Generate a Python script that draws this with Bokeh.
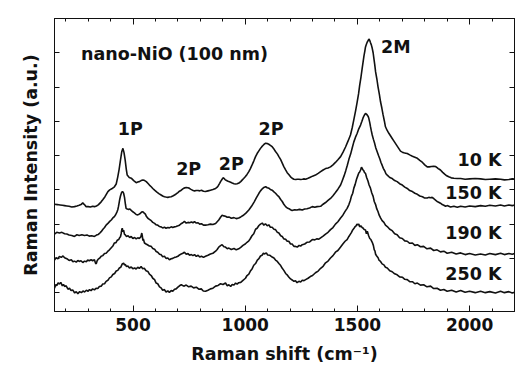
from bokeh.plotting import figure
from bokeh.models import Range1d, LinearAxis, SingleIntervalTicker, FixedTicker, Label
from bokeh.embed import file_html
from bokeh.resources import INLINE

# ---- data: (Raman shift in cm^-1, offset intensity in arbitrary units) ----
spec_10K = [(150, 2.58), (163, 2.57), (175, 2.56), (185, 2.55), (195, 2.54), (205, 2.53), (215, 2.52), (227, 2.50), (239, 2.51),
            (250, 2.53), (260, 2.55), (268, 2.57), (276, 2.62), (281, 2.58), (285, 2.56), (291, 2.51), (300, 2.51), (310, 2.50),
            (320, 2.52), (328, 2.51), (337, 2.53), (345, 2.56), (358, 2.65), (366, 2.72), (375, 2.80), (388, 2.95), (396, 3.00),
            (405, 3.03), (417, 3.09), (425, 3.17), (432, 3.38), (438, 3.60), (444, 3.87), (450, 4.12), (455, 4.21), (460, 4.08),
            (465, 3.87), (470, 3.60), (474, 3.43), (483, 3.36), (492, 3.34), (503, 3.27), (514, 3.21), (521, 3.23), (528, 3.24),
            (536, 3.27), (544, 3.29), (552, 3.27), (559, 3.24), (566, 3.19), (573, 3.14), (581, 3.09), (588, 3.04), (596, 2.99),
            (605, 2.94), (615, 2.89), (625, 2.85), (632, 2.82), (640, 2.80), (647, 2.79), (655, 2.78), (662, 2.79), (670, 2.80),
            (677, 2.82), (685, 2.85), (692, 2.88), (700, 2.92), (707, 2.96), (715, 2.99), (722, 3.03), (727, 3.05), (737, 3.07),
            (744, 3.06), (750, 3.05), (756, 3.02), (762, 3.00), (768, 2.98), (774, 2.97), (782, 2.98), (790, 2.98), (797, 2.97),
            (805, 2.99), (814, 2.96), (823, 2.95), (834, 2.97), (845, 2.99), (856, 3.01), (868, 3.04), (874, 3.07), (880, 3.12),
            (886, 3.19), (890, 3.24), (897, 3.31), (901, 3.35), (905, 3.34), (910, 3.30), (915, 3.28), (921, 3.26), (927, 3.24),
            (935, 3.22), (942, 3.20), (950, 3.18), (957, 3.17), (964, 3.18), (972, 3.20), (980, 3.24), (987, 3.29), (993, 3.33),
            (1000, 3.38), (1008, 3.45), (1016, 3.53), (1023, 3.62), (1030, 3.72), (1038, 3.84), (1046, 3.97), (1053, 4.06),
            (1060, 4.13), (1068, 4.21), (1074, 4.26), (1080, 4.30), (1086, 4.34), (1091, 4.36), (1098, 4.35), (1105, 4.33),
            (1112, 4.30), (1120, 4.26), (1128, 4.19), (1135, 4.12), (1143, 4.05), (1150, 3.97), (1158, 3.88), (1165, 3.78),
            (1172, 3.68), (1180, 3.58), (1187, 3.50), (1195, 3.44), (1202, 3.38), (1209, 3.34), (1217, 3.31), (1225, 3.30),
            (1232, 3.31), (1239, 3.31), (1247, 3.30), (1255, 3.31), (1262, 3.32), (1269, 3.31), (1280, 3.34), (1290, 3.37),
            (1300, 3.40), (1313, 3.43), (1325, 3.48), (1336, 3.53), (1347, 3.58), (1358, 3.62), (1369, 3.64), (1380, 3.67),
            (1391, 3.73), (1402, 3.80), (1413, 3.88), (1425, 3.97), (1436, 4.10), (1447, 4.25), (1458, 4.42), (1469, 4.60),
            (1477, 4.82), (1484, 5.05), (1492, 5.31), (1499, 5.57), (1505, 5.80), (1510, 6.05), (1516, 6.30), (1521, 6.54),
            (1525, 6.72), (1529, 6.90), (1533, 7.05), (1536, 7.17), (1540, 7.25), (1543, 7.30), (1547, 7.35), (1551, 7.40),
            (1555, 7.36), (1558, 7.30), (1562, 7.23), (1566, 7.13), (1570, 7.00), (1573, 6.85), (1577, 6.66), (1581, 6.44),
            (1587, 6.22), (1592, 6.00), (1598, 5.78), (1603, 5.57), (1609, 5.38), (1614, 5.20), (1620, 5.01), (1625, 4.84),
            (1632, 4.74), (1640, 4.65), (1648, 4.57), (1655, 4.50), (1662, 4.43), (1670, 4.35), (1681, 4.24), (1692, 4.13),
            (1700, 4.10), (1707, 4.08), (1715, 4.07), (1722, 4.06), (1733, 4.02), (1745, 3.98), (1756, 3.95), (1767, 3.92),
            (1778, 3.86), (1790, 3.80), (1800, 3.73), (1811, 3.67), (1820, 3.67), (1830, 3.68), (1840, 3.69), (1848, 3.68),
            (1855, 3.65), (1860, 3.62), (1865, 3.60), (1870, 3.58), (1880, 3.51), (1890, 3.45), (1898, 3.41), (1907, 3.38),
            (1918, 3.35), (1930, 3.34), (1945, 3.33), (1960, 3.33), (1980, 3.31), (2000, 3.32), (2025, 3.33), (2049, 3.32),
            (2070, 3.30), (2090, 3.31), (2115, 3.32), (2138, 3.31), (2155, 3.29), (2175, 3.30), (2190, 3.32), (2205, 3.31)]

spec_150K = [(150, 1.71), (160, 1.76), (172, 1.74), (183, 1.76), (195, 1.72), (205, 1.71), (215, 1.68), (227, 1.67), (239, 1.64),
             (250, 1.69), (260, 1.67), (272, 1.69), (284, 1.67), (295, 1.68), (305, 1.65), (316, 1.66), (328, 1.64), (337, 1.68),
             (345, 1.70), (352, 1.74), (358, 1.78), (366, 1.85), (373, 1.90), (380, 1.97), (388, 2.02), (396, 2.08), (403, 2.12),
             (410, 2.18), (417, 2.22), (423, 2.28), (428, 2.35), (432, 2.42), (435, 2.51), (438, 2.62), (440, 2.70), (444, 2.82),
             (449, 2.92), (453, 2.95), (456, 2.93), (458, 2.90), (462, 2.78), (466, 2.58), (469, 2.46), (474, 2.44), (480, 2.43),
             (486, 2.44), (492, 2.40), (499, 2.36), (506, 2.33), (514, 2.28), (521, 2.27), (527, 2.29), (532, 2.31), (538, 2.35),
             (544, 2.36), (550, 2.32), (555, 2.29), (560, 2.22), (566, 2.17), (573, 2.14), (581, 2.10), (588, 2.05), (596, 2.02),
             (603, 1.98), (610, 1.97), (618, 1.93), (625, 1.92), (632, 1.89), (640, 1.91), (647, 1.88), (655, 1.90), (662, 1.89),
             (670, 1.92), (677, 1.90), (685, 1.92), (692, 1.93), (700, 1.95), (707, 1.97), (714, 2.01), (722, 2.04), (729, 2.08),
             (737, 2.03), (745, 2.05), (752, 2.04), (760, 2.06), (767, 2.04), (774, 2.07), (782, 2.03), (790, 2.04), (797, 2.00),
             (805, 2.01), (814, 1.97), (823, 1.97), (834, 1.98), (845, 2.00), (856, 1.99), (868, 2.02), (875, 2.07), (882, 2.12),
             (890, 2.20), (897, 2.26), (905, 2.24), (912, 2.23), (920, 2.20), (927, 2.21), (938, 2.17), (950, 2.19), (960, 2.16),
             (971, 2.18), (980, 2.21), (990, 2.25), (1003, 2.32), (1016, 2.41), (1028, 2.52), (1040, 2.65), (1050, 2.77),
             (1061, 2.90), (1068, 2.97), (1076, 3.03), (1083, 3.07), (1091, 3.09), (1098, 3.06), (1105, 3.05), (1112, 3.01),
             (1120, 2.99), (1128, 2.94), (1135, 2.90), (1143, 2.84), (1150, 2.80), (1158, 2.72), (1165, 2.66), (1172, 2.58),
             (1180, 2.51), (1187, 2.47), (1195, 2.45), (1202, 2.42), (1209, 2.40), (1220, 2.42), (1230, 2.41), (1242, 2.43),
             (1254, 2.41), (1265, 2.44), (1275, 2.45), (1287, 2.47), (1299, 2.51), (1310, 2.49), (1320, 2.51), (1336, 2.52),
             (1347, 2.58), (1358, 2.63), (1369, 2.69), (1380, 2.75), (1391, 2.83), (1402, 2.92), (1413, 3.02), (1425, 3.14),
             (1432, 3.26), (1440, 3.40), (1448, 3.56), (1455, 3.72), (1462, 3.89), (1470, 4.05), (1477, 4.23), (1484, 4.40),
             (1491, 4.53), (1499, 4.65), (1506, 4.78), (1514, 4.89), (1520, 5.00), (1525, 5.10), (1530, 5.17), (1536, 5.23),
             (1540, 5.21), (1544, 5.18), (1548, 5.14), (1551, 5.08), (1555, 4.96), (1558, 4.85), (1562, 4.72), (1566, 4.60),
             (1571, 4.48), (1577, 4.35), (1582, 4.22), (1588, 4.11), (1594, 4.00), (1600, 3.90), (1605, 3.80), (1610, 3.72),
             (1616, 3.62), (1622, 3.55), (1627, 3.47), (1633, 3.43), (1644, 3.36), (1655, 3.33), (1666, 3.27), (1677, 3.24),
             (1688, 3.18), (1700, 3.14), (1711, 3.08), (1722, 3.04), (1733, 2.98), (1745, 2.95), (1756, 2.90), (1767, 2.87),
             (1778, 2.82), (1790, 2.80), (1800, 2.76), (1811, 2.76), (1818, 2.78), (1826, 2.77), (1833, 2.78), (1841, 2.74),
             (1848, 2.70), (1855, 2.66), (1862, 2.64), (1870, 2.61), (1878, 2.57), (1885, 2.55), (1893, 2.52), (1900, 2.54),
             (1915, 2.50), (1930, 2.52), (1945, 2.49), (1960, 2.52), (1980, 2.50), (2000, 2.53), (2025, 2.51), (2049, 2.54),
             (2070, 2.52), (2090, 2.55), (2115, 2.53), (2138, 2.56), (2155, 2.53), (2175, 2.56), (2190, 2.54), (2205, 2.56)]

spec_190K = [(150, 0.95), (157, 1.02), (165, 0.99), (172, 1.06), (180, 1.03), (188, 1.07), (195, 1.02), (205, 0.99), (215, 0.94),
             (225, 0.96), (232, 0.90), (239, 0.92), (247, 0.89), (254, 0.94), (260, 0.91), (268, 0.93), (276, 0.88), (284, 0.92),
             (292, 0.90), (298, 0.95), (305, 0.93), (313, 0.96), (320, 0.93), (328, 0.96), (333, 0.86), (336, 0.84), (340, 0.93),
             (345, 0.98), (352, 1.01), (358, 1.06), (365, 1.08), (373, 1.14), (380, 1.15), (388, 1.21), (395, 1.25), (403, 1.31),
             (410, 1.36), (417, 1.45), (424, 1.46), (430, 1.53), (436, 1.55), (440, 1.60), (444, 1.63), (447, 1.72), (450, 1.85),
             (452, 1.88), (455, 1.78), (458, 1.82), (462, 1.70), (465, 1.69), (471, 1.64), (478, 1.66), (485, 1.61), (492, 1.64),
             (499, 1.58), (507, 1.61), (514, 1.57), (521, 1.60), (528, 1.58), (535, 1.63), (539, 1.74), (541, 1.67), (544, 1.52),
             (546, 1.57), (551, 1.45), (558, 1.42), (566, 1.39), (573, 1.36), (581, 1.35), (588, 1.29), (596, 1.27), (603, 1.20),
             (610, 1.18), (618, 1.12), (625, 1.11), (632, 1.05), (640, 1.06), (647, 1.00), (655, 1.01), (662, 0.96), (670, 0.99),
             (677, 1.00), (685, 1.03), (692, 1.04), (700, 1.06), (707, 1.10), (715, 1.13), (722, 1.15), (729, 1.18), (737, 1.12),
             (745, 1.14), (752, 1.09), (760, 1.11), (767, 1.08), (774, 1.11), (782, 1.06), (790, 1.09), (797, 1.04), (805, 1.06),
             (814, 1.03), (823, 1.06), (834, 1.09), (845, 1.13), (856, 1.15), (868, 1.21), (875, 1.26), (882, 1.33), (890, 1.37),
             (897, 1.40), (905, 1.34), (912, 1.33), (920, 1.28), (927, 1.30), (938, 1.26), (950, 1.29), (960, 1.25), (971, 1.28),
             (980, 1.32), (990, 1.38), (1000, 1.42), (1008, 1.47), (1016, 1.51), (1023, 1.58), (1030, 1.66), (1038, 1.72),
             (1046, 1.85), (1053, 1.88), (1061, 1.96), (1068, 2.00), (1076, 2.03), (1083, 1.97), (1090, 2.01), (1098, 1.95),
             (1105, 1.98), (1112, 1.91), (1120, 1.91), (1128, 1.85), (1135, 1.84), (1143, 1.76), (1150, 1.74), (1158, 1.66),
             (1165, 1.64), (1172, 1.57), (1180, 1.56), (1187, 1.50), (1194, 1.50), (1202, 1.42), (1209, 1.42), (1217, 1.35),
             (1224, 1.35), (1232, 1.33), (1240, 1.38), (1247, 1.36), (1254, 1.40), (1265, 1.42), (1275, 1.47), (1287, 1.48),
             (1299, 1.55), (1310, 1.54), (1320, 1.57), (1328, 1.56), (1336, 1.60), (1347, 1.65), (1358, 1.71), (1369, 1.76),
             (1380, 1.84), (1391, 1.90), (1402, 2.00), (1413, 2.07), (1425, 2.18), (1435, 2.26), (1445, 2.37), (1454, 2.46),
             (1462, 2.57), (1468, 2.68), (1473, 2.81), (1479, 2.90), (1484, 3.05), (1490, 3.16), (1496, 3.31), (1501, 3.40),
             (1506, 3.49), (1510, 3.52), (1514, 3.58), (1518, 3.66), (1521, 3.63), (1525, 3.58), (1528, 3.56), (1532, 3.50),
             (1536, 3.48), (1541, 3.36), (1547, 3.26), (1552, 3.14), (1558, 3.05), (1564, 2.91), (1570, 2.81), (1575, 2.66),
             (1581, 2.57), (1586, 2.45), (1592, 2.36), (1597, 2.26), (1603, 2.18), (1610, 2.10), (1618, 2.05), (1625, 1.97),
             (1633, 1.93), (1644, 1.85), (1655, 1.81), (1666, 1.72), (1677, 1.69), (1688, 1.60), (1700, 1.58), (1711, 1.51),
             (1722, 1.50), (1733, 1.44), (1745, 1.45), (1756, 1.38), (1767, 1.40), (1781, 1.34), (1795, 1.35), (1810, 1.28),
             (1826, 1.30), (1840, 1.23), (1855, 1.25), (1870, 1.19), (1885, 1.21), (1900, 1.15), (1920, 1.18), (1940, 1.13),
             (1960, 1.16), (1980, 1.11), (2000, 1.14), (2025, 1.10), (2049, 1.13), (2070, 1.10), (2090, 1.14), (2115, 1.11),
             (2138, 1.15), (2155, 1.11), (2175, 1.14), (2190, 1.12), (2205, 1.15)]

spec_250K = [(150, 0.13), (156, 0.24), (160, 0.20), (166, 0.29), (172, 0.25), (178, 0.30), (185, 0.20), (190, 0.24), (195, 0.18),
             (202, 0.20), (210, 0.10), (217, 0.13), (224, 0.06), (231, 0.08), (240, -0.01), (247, 0.03), (254, -0.03), (262, 0.03),
             (270, 0.00), (277, 0.05), (284, 0.02), (292, 0.07), (300, 0.04), (306, 0.09), (313, 0.06), (320, 0.11), (328, 0.08),
             (335, 0.13), (343, 0.12), (350, 0.18), (358, 0.19), (365, 0.25), (373, 0.26), (380, 0.33), (388, 0.36), (395, 0.43),
             (403, 0.46), (410, 0.53), (418, 0.56), (425, 0.63), (432, 0.65), (439, 0.72), (445, 0.74), (452, 0.84), (458, 0.86),
             (462, 0.81), (466, 0.82), (471, 0.76), (477, 0.78), (484, 0.72), (492, 0.75), (499, 0.70), (507, 0.72), (514, 0.69),
             (521, 0.74), (528, 0.71), (536, 0.76), (543, 0.70), (550, 0.71), (558, 0.64), (566, 0.62), (573, 0.54), (581, 0.50),
             (588, 0.42), (596, 0.38), (603, 0.28), (610, 0.26), (618, 0.17), (625, 0.14), (632, 0.07), (640, 0.09), (647, 0.02),
             (655, 0.05), (662, 0.01), (670, 0.06), (677, 0.04), (685, 0.10), (692, 0.11), (700, 0.16), (707, 0.20), (715, 0.23),
             (726, 0.19), (737, 0.22), (748, 0.17), (759, 0.19), (770, 0.14), (782, 0.16), (793, 0.10), (804, 0.11), (813, 0.05),
             (823, 0.04), (834, 0.07), (845, 0.11), (856, 0.13), (868, 0.19), (879, 0.21), (890, 0.26), (901, 0.24), (912, 0.28),
             (920, 0.20), (927, 0.23), (935, 0.18), (942, 0.24), (950, 0.22), (957, 0.28), (964, 0.25), (971, 0.29), (980, 0.30),
             (990, 0.36), (1001, 0.42), (1008, 0.50), (1016, 0.54), (1024, 0.64), (1031, 0.70), (1038, 0.80), (1046, 0.85),
             (1054, 0.95), (1061, 0.99), (1068, 1.07), (1075, 1.09), (1081, 1.15), (1087, 1.13), (1094, 1.16), (1100, 1.10),
             (1110, 1.09), (1120, 1.04), (1128, 1.01), (1135, 0.95), (1143, 0.91), (1150, 0.85), (1158, 0.79), (1165, 0.71),
             (1172, 0.65), (1180, 0.56), (1188, 0.51), (1195, 0.45), (1202, 0.40), (1209, 0.37), (1217, 0.33), (1224, 0.35),
             (1231, 0.29), (1239, 0.33), (1247, 0.31), (1254, 0.36), (1262, 0.35), (1269, 0.38), (1280, 0.42), (1290, 0.47),
             (1300, 0.50), (1313, 0.58), (1325, 0.63), (1336, 0.71), (1347, 0.77), (1358, 0.87), (1369, 0.92), (1380, 1.01),
             (1391, 1.08), (1402, 1.18), (1413, 1.23), (1425, 1.33), (1435, 1.42), (1445, 1.50), (1454, 1.55), (1462, 1.64),
             (1468, 1.70), (1473, 1.75), (1479, 1.83), (1484, 1.87), (1490, 1.93), (1494, 1.95), (1498, 2.00), (1502, 1.98),
             (1506, 2.00), (1510, 1.92), (1515, 1.95), (1521, 1.90), (1526, 1.88), (1530, 1.84), (1536, 1.83), (1540, 1.72),
             (1544, 1.79), (1550, 1.66), (1555, 1.58), (1560, 1.55), (1566, 1.47), (1571, 1.38), (1575, 1.25), (1578, 1.22),
             (1581, 1.12), (1586, 1.07), (1592, 1.02), (1597, 0.94), (1603, 0.91), (1610, 0.84), (1618, 0.81), (1625, 0.74),
             (1633, 0.72), (1644, 0.64), (1655, 0.61), (1666, 0.55), (1677, 0.52), (1688, 0.46), (1700, 0.45), (1711, 0.39),
             (1722, 0.38), (1733, 0.32), (1745, 0.32), (1756, 0.26), (1767, 0.28), (1781, 0.22), (1795, 0.23), (1810, 0.17),
             (1826, 0.19), (1840, 0.12), (1855, 0.13), (1870, 0.07), (1885, 0.09), (1900, 0.04), (1920, 0.07), (1940, 0.02),
             (1960, 0.06), (1980, 0.01), (2000, 0.04), (2025, 0.00), (2049, 0.04), (2070, 0.00), (2090, 0.03), (2115, -0.01),
             (2138, 0.04), (2155, 0.00), (2175, 0.03), (2190, -0.01), (2205, 0.02)]

temperature_labels = ["10 K", "150 K", "190 K", "250 K"]
peak_labels = ["1P", "2P", "2P", "2P", "2M"]
x_tick_interval = 500
y_ticks = [0, 1, 2, 3, 4, 5, 6, 7, 8]

FONT = "DejaVu Sans"
INK = "#111111"

p = figure(width=520, height=366, output_backend="svg", toolbar_location=None,
           x_range=Range1d(150, 2200), y_range=Range1d(-0.55, 8.0),
           min_border_left=54, min_border_right=6, min_border_top=18, min_border_bottom=54,
           x_axis_label="Raman shift (cm\u207b\u00b9)", y_axis_label="Raman Intensity (a.u.)")
p.xgrid.visible = False
p.ygrid.visible = False
p.outline_line_color = INK
p.background_fill_color = "white"
p.border_fill_color = "white"

for spec in (spec_10K, spec_150K, spec_190K, spec_250K):
    xs = [pt[0] for pt in spec]
    ys = [pt[1] for pt in spec]
    p.line(xs, ys, line_color=INK, line_width=1.6)


def style_x(ax, show_labels):
    ax.ticker = SingleIntervalTicker(interval=x_tick_interval, num_minor_ticks=5)
    ax.major_tick_in = 6
    ax.major_tick_out = 0
    ax.minor_tick_in = 3
    ax.minor_tick_out = 0
    ax.axis_line_color = INK
    ax.major_tick_line_color = INK
    ax.minor_tick_line_color = INK
    ax.major_label_text_font = FONT
    ax.major_label_text_font_style = "bold"
    if show_labels:
        ax.major_label_text_color = INK
        ax.major_label_text_font_size = "17px"
        ax.major_label_standoff = 6
    else:
        ax.major_label_text_color = None
        ax.major_label_text_font_size = "1px"
        ax.major_label_standoff = 0


def style_y(ax):
    ax.ticker = FixedTicker(ticks=y_ticks, minor_ticks=[])
    ax.major_tick_in = 5
    ax.major_tick_out = 0
    ax.minor_tick_line_color = None
    ax.axis_line_color = INK
    ax.major_tick_line_color = INK
    ax.major_label_text_color = None
    ax.major_label_text_font_size = "1px"
    ax.major_label_standoff = 0


style_x(p.xaxis[0], True)
style_y(p.yaxis[0])
for ax, st in ((p.xaxis[0], 10), (p.yaxis[0], 14)):
    ax.axis_label_text_font = FONT
    ax.axis_label_text_font_style = "bold"
    ax.axis_label_text_font_size = "17.5px"
    ax.axis_label_text_color = INK
    ax.axis_label_standoff = st

top = LinearAxis()
style_x(top, False)
p.add_layout(top, "above")
right = LinearAxis()
style_y(right)
p.add_layout(right, "right")


def lab(x, y, text, align="left"):
    p.add_layout(Label(x=x, y=y, text=text, text_font=FONT, text_font_style="bold",
                       text_font_size="17.5px", text_color=INK, text_align=align,
                       text_baseline="alphabetic"))


lab(268, 6.96, "nano-NiO (100 nm)")
for txt, yy in zip(temperature_labels, [3.86, 2.92, 1.74, 0.54]):
    lab(2142, yy, txt, align="right")
for txt, xx, yy in zip(peak_labels, [488, 748, 938, 1115, 1605], [4.77, 3.60, 3.75, 4.77, 7.16]):
    lab(xx, yy, txt, align="left" if txt == "2M" else "center")

open("out.html", "w").write(file_html(p, INLINE))
